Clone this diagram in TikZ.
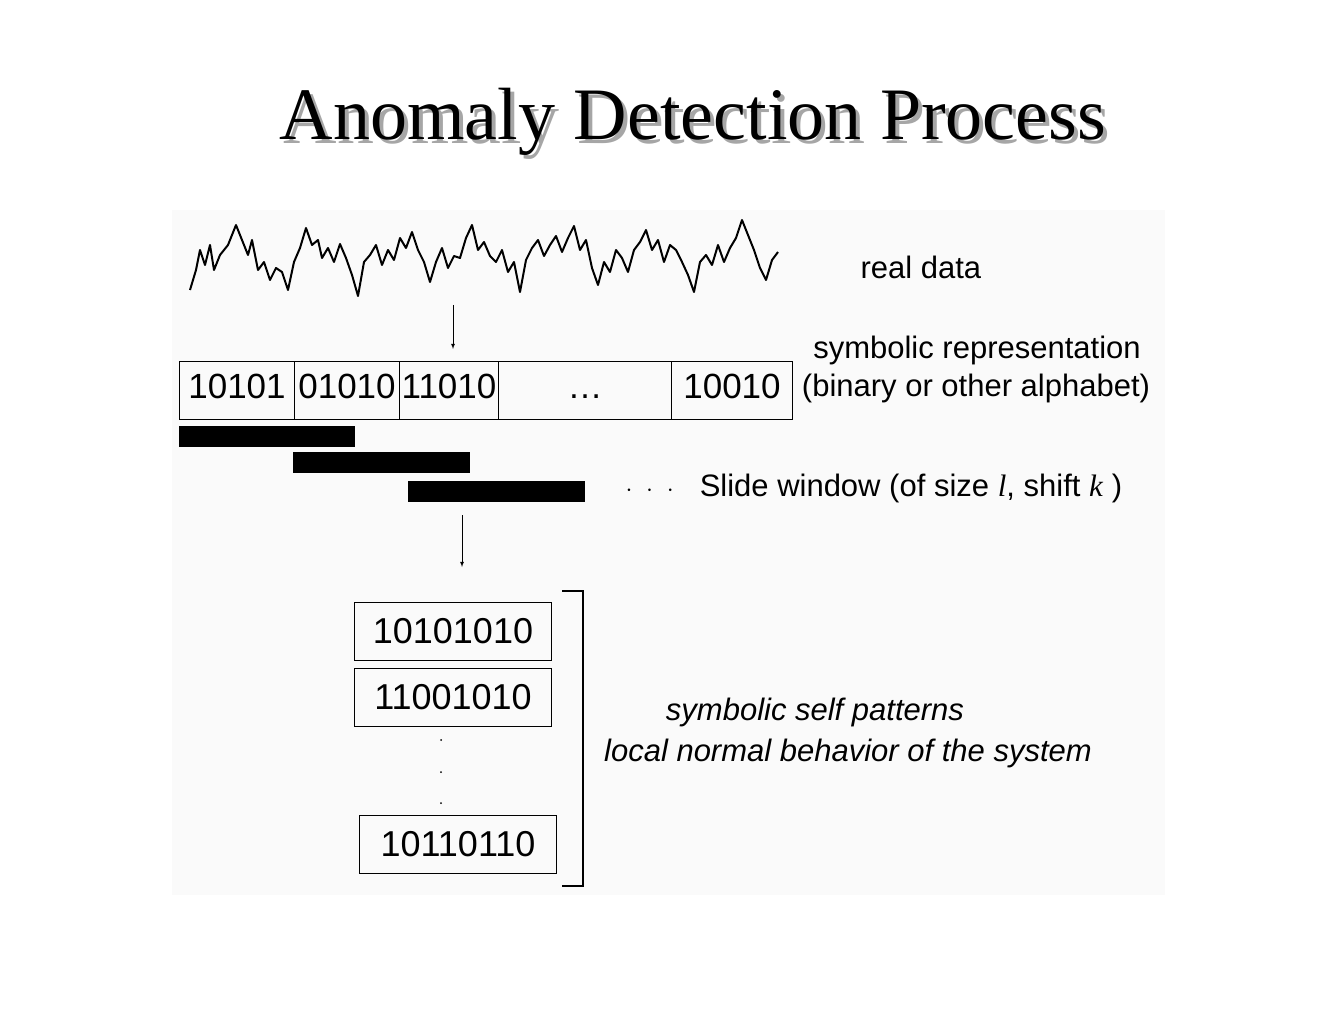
\documentclass[tikz,border=0pt]{standalone}
\usepackage{fontspec}
\setmainfont{Liberation Serif}
\setsansfont{Liberation Sans}
\begin{document}
\begin{tikzpicture}[x=1pt,y=-1pt,
 cell/.style={draw,line width=1pt,minimum height=58pt,inner sep=0pt,font=\sffamily\fontsize{35}{38}\selectfont},
 pat/.style={draw,line width=1pt,minimum width=197pt,minimum height=58pt,inner sep=0pt,font=\sffamily\fontsize{36}{40}\selectfont},
 lab/.style={font=\sffamily\fontsize{31}{34}\selectfont},
 bar/.style={fill=black},
 arr/.style={-latex,line width=0.8pt}]
\useasboundingbox (0,0) rectangle (1325,1024);
\fill[gray!4] (172,210) rectangle (1165,895);
\node[text=gray!70,font=\fontsize{74}{80}\selectfont] at (697,126) {Anomaly Detection Process};
\node[font=\fontsize{74}{80}\selectfont] (title) at (693,122) {Anomaly Detection Process};
\draw[line width=2pt,line join=round] (190,290) -- (196,270) -- (200,250) -- (205,265) -- (210,245) -- (214,270) -- (220,255) -- (228,245) -- (236,225) -- (242,240) -- (248,255) -- (252,240) -- (258,270) -- (264,262) -- (270,280) -- (276,268) -- (282,272) -- (288,290) -- (294,262) -- (300,248) -- (306,228) -- (312,245) -- (318,240) -- (322,258) -- (328,248) -- (334,262) -- (340,244) -- (346,258) -- (352,275) -- (358,296) -- (364,262) -- (370,255) -- (376,245) -- (382,265) -- (388,250) -- (394,260) -- (400,238) -- (406,248) -- (412,232) -- (418,250) -- (424,262) -- (430,282) -- (436,262) -- (442,248) -- (448,268) -- (454,256) -- (460,258) -- (466,238) -- (472,225) -- (478,250) -- (484,242) -- (490,256) -- (496,262) -- (502,250) -- (508,272) -- (514,262) -- (520,292) -- (526,260) -- (532,248) -- (538,240) -- (544,256) -- (550,245) -- (556,236) -- (562,252) -- (568,238) -- (574,226) -- (580,250) -- (586,240) -- (592,268) -- (598,285) -- (604,262) -- (610,272) -- (616,250) -- (622,258) -- (628,272) -- (634,250) -- (640,242) -- (646,230) -- (652,250) -- (658,240) -- (664,262) -- (670,245) -- (676,250) -- (682,262) -- (688,275) -- (694,292) -- (700,262) -- (706,255) -- (712,265) -- (718,245) -- (724,262) -- (730,248) -- (736,238) -- (742,220) -- (748,235) -- (754,250) -- (760,268) -- (766,280) -- (772,260) -- (778,252);
\node[lab,anchor=west] (real) at (857,267) {real data};
\coordinate (a1s) at (453,305);
\coordinate (a1e) at (453,349);
\draw[arr] (a1s) -- (a1e);
\node[cell,minimum width=115pt,anchor=north west] (c1) at (179,361) {10101\strut};
\node[cell,minimum width=105pt,anchor=north west] (c2) at (294,361) {01010\strut};
\node[cell,minimum width=99pt,anchor=north west] (c3) at (399,361) {11010\strut};
\node[cell,minimum width=173pt,anchor=north west] (c4) at (498,361) {…\strut};
\node[cell,minimum width=121pt,anchor=north west] (c5) at (671,361) {10010\strut};
\node[lab] (sr) at (977,350) {symbolic representation};
\node[lab] (bo) at (976,388) {(binary or other alphabet)};
\fill[bar] (179,426) rectangle (355,447);
\fill[bar] (293,452) rectangle (470,473);
\fill[bar] (408,481) rectangle (585,502);
\node[lab,anchor=west] (sw) at (622,488) {$\cdot\,\,\cdot\,\,\cdot$\ \ \ Slide window (of size \textit{\rmfamily l}, shift \textit{\rmfamily k} )};
\coordinate (a2s) at (462,515);
\coordinate (a2e) at (462,567);
\draw[arr] (a2s) -- (a2e);
\node[pat,anchor=north west] (p1) at (354,602) {10101010};
\node[pat,anchor=north west] (p2) at (354,668) {11001010};
\node[pat,anchor=north west] (p3) at (359,815) {10110110};
\foreach \yy in {740,772,803} \fill (441,\yy) circle (1pt);
\draw[line width=1.2pt] (562,591) -- (583,591) -- (583,886) -- (562,886);
\node[font=\sffamily\itshape\fontsize{31}{34}\selectfont] (sp) at (815,712) {symbolic self patterns};
\node[font=\sffamily\itshape\fontsize{31}{34}\selectfont] (ln) at (848,753) {local normal behavior of the system};
\end{tikzpicture}
\end{document}
